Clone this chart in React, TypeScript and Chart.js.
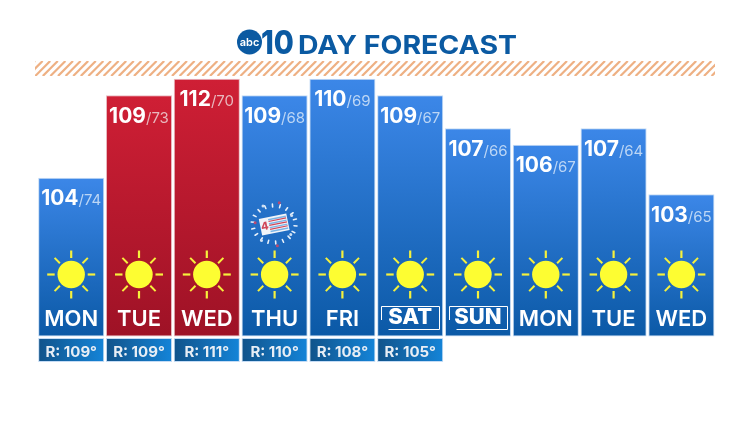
import React, { useEffect, useRef } from "react";
import { Chart, registerables } from "chart.js";

Chart.register(...registerables);

const days = ["MON", "TUE", "WED", "THU", "FRI", "SAT", "SUN", "MON", "TUE", "WED"];
const highs = [104, 109, 112, 109, 110, 109, 107, 106, 107, 103];
const lows = [74, 73, 70, 68, 69, 67, 66, 67, 64, 65];
const barLevels = [104, 109, 110, 109, 110, 109, 107, 106, 107, 103];
const records: (number | null)[] = [109, 109, 111, 110, 108, 105, null, null, null, null];
const heatDays = [false, true, true, false, false, false, false, false, false, false];
const weekendDays = [false, false, false, false, false, true, true, false, false, false];
const titleText = "DAY FORECAST";
const BASE = 94.38;
const REC_TOP = 94.29;
const REC_BOTTOM = 92.83;
const FONT = "Inter, 'Open Sans', sans-serif";

const overlay = {
  id: "overlay",
  afterDatasetsDraw(chart: any) {
    const { ctx } = chart;
    const x = chart.scales.x;
    ctx.save();
    // title
    ctx.fillStyle = "#0b5aa2";
    ctx.beginPath();
    ctx.arc(249.5, 42, 12.5, 0, Math.PI * 2);
    ctx.fill();
    ctx.textBaseline = "alphabetic";
    ctx.textAlign = "left";
    ctx.save();
    ctx.translate(261, 54);
    ctx.scale(0.88, 1);
    ctx.font = `800 33px ${FONT}`;
    ctx.fillText("10", 0, 0);
    ctx.restore();
    ctx.save();
    ctx.translate(298, 54);
    ctx.font = `700 26px ${FONT}`;
    ctx.scale(219 / ctx.measureText(titleText).width, 1);
    ctx.fillText(titleText, 0, 0);
    ctx.restore();
    ctx.fillStyle = "#fff";
    ctx.textAlign = "center";
    ctx.font = `600 11px ${FONT}`;
    ctx.fillText("abc", 249.5, 45.5);
    // hatch
    ctx.save();
    ctx.beginPath();
    ctx.rect(35, 61, 680, 15);
    ctx.clip();
    ctx.strokeStyle = "#eeb083";
    ctx.lineWidth = 2.2;
    for (let p = 20; p < 740; p += 7.6) {
      ctx.beginPath();
      ctx.moveTo(p, 76);
      ctx.lineTo(p + 15, 61);
      ctx.stroke();
    }
    ctx.restore();
    // per-bar content
    days.forEach((d, i) => {
      const cx = x.getPixelForValue(i);
      const top = chart.scales.y.getPixelForValue(barLevels[i]);
      const ty = top + 27.5;
      ctx.fillStyle = "#fff";
      ctx.textAlign = "left";
      const hi = String(highs[i]);
      const lo = "/" + lows[i];
      ctx.font = `700 21px ${FONT}`;
      const hw = ctx.measureText(hi).width;
      ctx.font = `400 15px ${FONT}`;
      const lw = ctx.measureText(lo).width;
      const sx = cx - (hw + lw) / 2;
      ctx.font = `700 21px ${FONT}`;
      ctx.fillText(hi, sx, ty);
      ctx.font = `400 15px ${FONT}`;
      ctx.fillStyle = heatDays[i] ? "#e8b8be" : "#bcd6f5";
      ctx.fillText(lo, sx + hw, ty);
      // sun
      ctx.strokeStyle = "#f6f13c";
      ctx.fillStyle = "#fdfd32";
      ctx.lineCap = "butt";
      for (let k = 0; k < 8; k++) {
        const a = (k * Math.PI) / 4;
        const r0 = k % 2 ? 16 : 16.5;
        const r1 = k % 2 ? 23.5 : 24;
        ctx.lineWidth = k % 2 ? 2 : 2.2;
        ctx.beginPath();
        ctx.moveTo(cx + Math.cos(a) * r0, 274.5 + Math.sin(a) * r0);
        ctx.lineTo(cx + Math.cos(a) * r1, 274.5 + Math.sin(a) * r1);
        ctx.stroke();
      }
      ctx.beginPath();
      ctx.arc(cx, 274.5, 13.7, 0, Math.PI * 2);
      ctx.fill();
      // day label
      ctx.fillStyle = "#fff";
      ctx.textAlign = "center";
      if (weekendDays[i]) {
        ctx.font = `800 22px ${FONT}`;
        ctx.fillText(d, cx, 324);
        const l = Math.round(cx - 29) + 0.5;
        const r = Math.round(cx + 29) + 0.5;
        ctx.strokeStyle = "#fff";
        ctx.lineWidth = 1;
        ctx.beginPath();
        ctx.moveTo(l, 320);
        ctx.lineTo(l, 306.5);
        ctx.lineTo(r, 306.5);
        ctx.lineTo(r, 329.5);
        ctx.lineTo(l + 7, 329.5);
        ctx.stroke();
      } else {
        ctx.font = `600 22px ${FONT}`;
        ctx.fillText(d, cx, 326);
      }
      // record
      if (records[i] != null) {
        ctx.fillStyle = "#e8eef5";
        ctx.font = `700 15px ${FONT}`;
        ctx.fillText(`R: ${records[i]}°`, cx, 356.5);
      }
    });
    // Fourth of July badge
    const fx = x.getPixelForValue(3) - 0.5;
    const fy = 224;
    ctx.save();
    ctx.translate(fx, fy);
    ctx.lineWidth = 1.6;
    ctx.lineCap = "round";
    for (let k = 0; k < 18; k++) {
      const a = (k * Math.PI * 2) / 18 + 0.1;
      ctx.strokeStyle = "#e8f1fb";
      ctx.beginPath();
      ctx.moveTo(Math.cos(a) * 20, Math.sin(a) * 17);
      ctx.lineTo(Math.cos(a) * 23, Math.sin(a) * 20);
      ctx.stroke();
    }
    for (let k = 0; k < 7; k++) {
      const a = (k * Math.PI * 2) / 7 + 0.5;
      ctx.fillStyle = k % 2 ? "#b94a72" : "#cfe0f3";
      ctx.beginPath();
      ctx.arc(Math.cos(a) * 19, Math.sin(a) * 22, 1.5, 0, Math.PI * 2);
      ctx.fill();
    }
    ctx.rotate(-0.2);
    ctx.fillStyle = "#f2f5f9";
    ctx.fillRect(-14, -8, 28, 17);
    ctx.fillStyle = "#7bb4e6";
    for (let k = 0; k < 4; k++) ctx.fillRect(-5, -6 + k * 4, 18, 1.4);
    ctx.fillStyle = "#d0485a";
    ctx.fillRect(-5, -4.2, 18, 1.2);
    ctx.fillRect(-5, -0.2, 18, 1.2);
    ctx.fillRect(-5, 3.8, 18, 1.2);
    ctx.font = `800 11px ${FONT}`;
    ctx.textAlign = "center";
    ctx.fillText("4", -9.5, 4);
    ctx.restore();
    ctx.restore();
  },
};

function gradient(chart: any, y0: number, y1: number, stops: string[]) {
  const g = chart.ctx.createLinearGradient(0, y0, 0, y1);
  g.addColorStop(0, stops[0]);
  g.addColorStop(1, stops[1]);
  return g;
}

export default function App() {
  const ref = useRef<HTMLCanvasElement>(null);
  useEffect(() => {
    document.body.style.margin = "0";
    const chart = new Chart(ref.current!, {
      type: "bar",
      data: {
        labels: days,
        datasets: [
          {
            data: barLevels.map((v) => [BASE, v]) as any,
            grouped: false,
            barPercentage: 0.975,
            categoryPercentage: 1,
            borderWidth: 1,
            borderSkipped: false,
            borderColor: (c: any) => (heatDays[c.dataIndex] ? "#e9bcc2" : "#c5dcf5"),
            backgroundColor: (c: any) => {
              const ch = c.chart;
              if (!ch.chartArea) return "#2a72cc";
              const y = ch.scales.y;
              return gradient(
                ch,
                y.getPixelForValue(barLevels[c.dataIndex]),
                y.getPixelForValue(BASE),
                heatDays[c.dataIndex] ? ["#cf1f35", "#9e1226"] : ["#3c87e8", "#0b59a6"]
              );
            },
          },
          {
            data: records.map((r) => (r == null ? null : [REC_BOTTOM, REC_TOP])) as any,
            grouped: false,
            barPercentage: 0.975,
            categoryPercentage: 1,
            borderWidth: 1,
            borderSkipped: false,
            borderColor: "#c5dcf5",
            backgroundColor: (c: any) => {
              const ch = c.chart;
              if (!ch.chartArea) return "#1a6cb8";
              const x = ch.scales.x.getPixelForValue(c.dataIndex);
              const g = ch.ctx.createLinearGradient(x - 33, 0, x + 33, 0);
              g.addColorStop(0, "#11538a");
              g.addColorStop(1, "#1484d8");
              return g;
            },
          },
        ],
      },
      options: {
        animation: false,
        responsive: false,
        layout: { padding: { left: 37.3, right: 34.7, top: 0, bottom: 0 } },
        plugins: { legend: { display: false }, tooltip: { enabled: false } },
        scales: {
          x: { display: false, offset: true },
          y: { display: false, min: 89.2, max: 114.77 },
        },
      },
      plugins: [overlay],
    });
    return () => chart.destroy();
  }, []);
  return <canvas ref={ref} width={750} height={422} style={{ display: "block" }} />;
}
